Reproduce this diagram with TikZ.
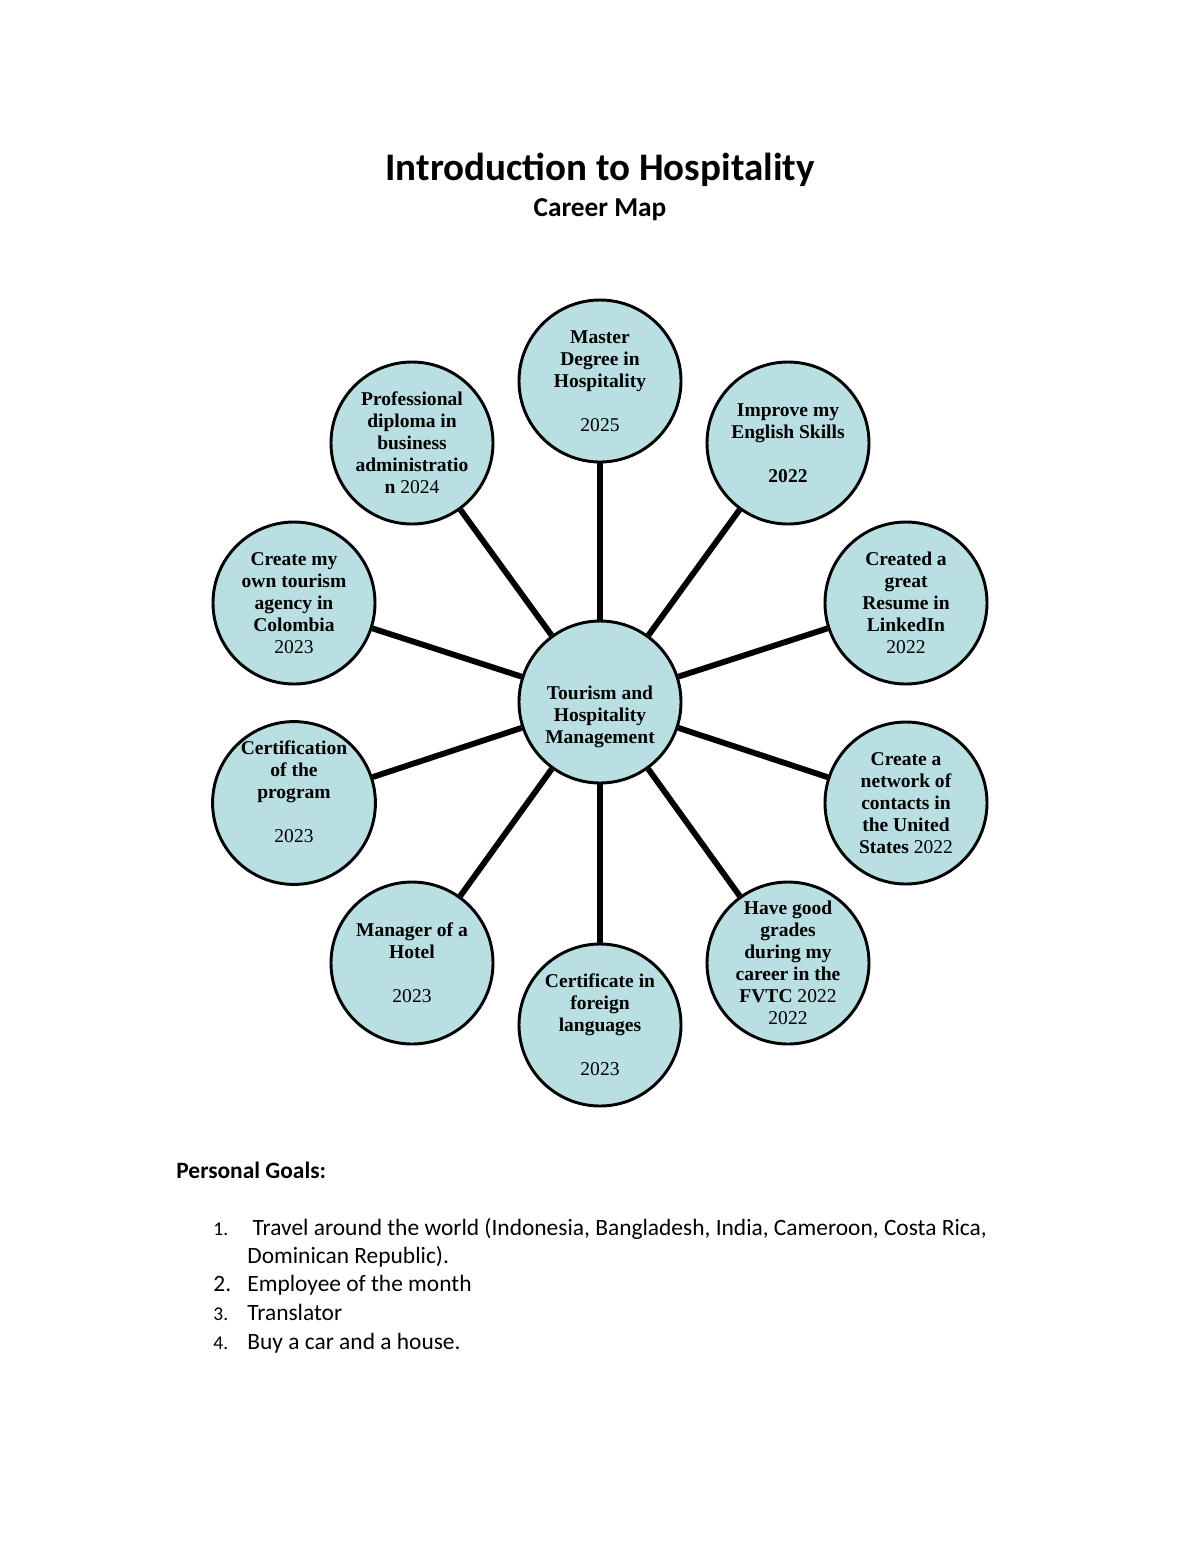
\documentclass[tikz,border=0pt]{standalone}
\usepackage{fontspec}
\setmainfont{Liberation Serif}
\newfontfamily\calibri{Carlito}
\usepackage{xcolor}
\usepackage{tikz}
\usetikzlibrary{positioning}

\definecolor{bubble}{RGB}{185,223,227}

\begin{document}
\begin{tikzpicture}[x=0.018cm, y=-0.018cm,
    goal/.style={circle, draw=black, line width=1.5pt, fill=bubble, minimum size=162*0.018cm,
        inner sep=0pt, align=center, font=\bfseries\fontsize{10}{11.3}\selectfont},
    spoke/.style={line width=3pt, black},
    plain/.style={anchor=base west, inner sep=0pt, font=\calibri\fontsize{12}{14}\selectfont}]
    \useasboundingbox (0,0) rectangle (1200,1553);

    % Heading
    \node[font=\calibri\bfseries\fontsize{20}{24}\selectfont, anchor=base] (title) at (600,180) {Introduction to Hospitality};
    \node[font=\calibri\bfseries\fontsize{14}{17}\selectfont, anchor=base] (subtitle) at (600,216) {Career Map};

    % The hub and its goals
    \node[goal] (hub) at (600,702) {\strut\\[3pt]Tourism and\\Hospitality\\Management};
    \node[goal] (master) at (600,381) {Master\\Degree in\\Hospitality\\[\baselineskip]{\mdseries 2025}};
    \node[goal] (english) at (788,443) {Improve my\\English Skills\\[\baselineskip]2022};
    \node[goal] (resume) at (906,603) {Created a\\great\\Resume in\\LinkedIn\\{\mdseries 2022}};
    \node[goal] (network) at (906,803) {Create a\\network of\\contacts in\\the United\\States {\mdseries 2022}};
    \node[goal] (grades) at (788,963) {Have good\\grades\\during my\\career in the\\FVTC {\mdseries 2022}\\{\mdseries 2022}};
    \node[goal] (foreign) at (600,1025) {Certificate in\\foreign\\languages\\[\baselineskip]{\mdseries 2023}};
    \node[goal] (hotel) at (412,963) {Manager of a\\Hotel\\[\baselineskip]{\mdseries 2023}};
    \node[goal] (program) at (294,803) {Certification\\of the\\program\\[\baselineskip]{\mdseries 2023}\\\mbox{}};
    \node[goal] (agency) at (294,603) {Create my\\own tourism\\agency in\\Colombia\\{\mdseries 2023}};
    \node[goal] (diploma) at (412,443) {Professional\\diploma in\\business\\administratio\\n {\mdseries 2024}};

    % Spokes
    \foreach \g in {master, english, resume, network, grades, foreign, hotel, program, agency, diploma} {
        \draw[spoke] (hub) -- (\g);
    }

    % Personal goals
    \node[plain, font=\calibri\bfseries\fontsize{12}{14}\selectfont] (goalshead) at (176,1178) {Personal Goals:};
    \node[plain, font=\calibri\fontsize{10}{12}\selectfont] (num1) at (213,1235) {1.};
    \node[plain] (item1) at (247,1235) {\ Travel around the world (Indonesia, Bangladesh, India, Cameroon, Costa Rica,};
    \node[plain] (item1b) at (247,1263) {Dominican Republic).};
    \node[plain, font=\calibri\fontsize{12}{14}\selectfont] (num2) at (213,1291) {2.};
    \node[plain] (item2) at (247,1291) {Employee of the month};
    \node[plain, font=\calibri\fontsize{10}{12}\selectfont] (num3) at (213,1320) {3.};
    \node[plain] (item3) at (247,1320) {Translator};
    \node[plain, font=\calibri\fontsize{10}{12}\selectfont] (num4) at (213,1349) {4.};
    \node[plain] (item4) at (247,1349) {Buy a car and a house.};
\end{tikzpicture}
\end{document}
